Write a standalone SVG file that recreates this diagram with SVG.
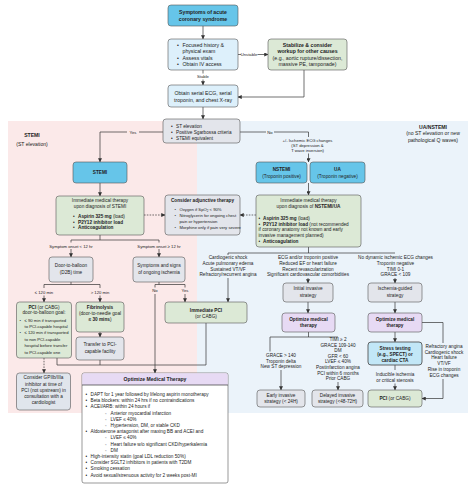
<svg xmlns="http://www.w3.org/2000/svg" width="474" height="489" viewBox="0 0 474 489">
<defs>
<marker id="ah" viewBox="0 0 6 6" refX="5.6" refY="3" markerWidth="4" markerHeight="4" markerUnits="userSpaceOnUse" orient="auto"><path d="M0,0L6,3L0,6z" fill="#333"/></marker>
<style>
.bx{stroke:#555;stroke-width:0.6}
.bd{fill:#66c5e9}
.bl{fill:#ddf0fb}
.gr{fill:#e3e5eb}
.gn{fill:#dce9d6}
.pu{fill:#e7daf4}
.sb{fill:#c2e7f7;stroke-width:0.9}
.wh{fill:#fff}
.ln{fill:none;stroke:#333;stroke-width:0.7}
.ar{marker-end:url(#ah)}
.dl{stroke-dasharray:1.6 1.2}
text{font-family:"Liberation Sans",Arial,sans-serif;font-size:4.7px;fill:#222}
.c{text-anchor:middle}
.b{font-weight:bold}
.L{font-size:5.2px}
.S{font-size:4.2px}
.R{font-size:5.1px}
</style>
</defs>
<rect width="474" height="489" fill="#fff"/>
<rect x="8" y="121" width="189" height="292" fill="#fbe9e9"/>
<rect x="197" y="121" width="271" height="292" fill="#ebf3fa"/>

<g id="region-stemi">
<text class="c b R" x="32" y="137">STEMI</text>
<text class="c R" x="32" y="146">(ST elevation)</text>
</g>
<g id="region-nstemi">
<text class="c b R" x="433" y="128.5">UA/NSTEMI</text>
<text class="c R" x="433" y="135">(no ST elevation or new</text>
<text class="c R" x="433" y="141.5">pathological Q waves)</text>
</g>

<g id="connectors">
<path class="ln ar" d="M203,26V39"/>
<path class="ln" d="M238,54.5H241"/>
<path class="ln ar" d="M257.5,54.5H268"/>
<text class="c S" x="249" y="56">Unstable</text>
<path class="ln" d="M203,70V73.5"/>
<text class="c S" x="203" y="78">Stable</text>
<path class="ln ar" d="M203,79.5V85"/>
<path class="ln ar" d="M304,70V97H238"/>
<path class="ln ar" d="M203,107V119"/>
<path class="ln" d="M163,132H139"/>
<text class="c S" x="133" y="133.5">Yes</text>
<path class="ln ar" d="M127,132H100V162"/>
<path class="ln" d="M240,132H266"/>
<text class="c S" x="270" y="133.5">No</text>
<path class="ln" d="M274,132H308.5V137"/>
<text class="c S" x="307.5" y="141.5">+/- Ischemic ECG changes</text>
<text class="c S" x="307.5" y="146.5">(ST depression &amp;</text>
<text class="c S" x="307.5" y="151.5">T wave inversion)</text>
<path class="ln ar" d="M308.5,153.5V162"/>
<path class="ln ar" d="M308.5,183V195"/>
<path class="ln ar" d="M100,183V196"/>
<path class="ln dl ar" d="M144,215H165"/>
<path class="ln dl ar" d="M256,215H240"/>
<path class="ln" d="M100,235V240M71,240H159M71,240V242.5M159,240V242.5"/>
<text class="c S" x="71" y="247.5">Symptom onset &lt; 12 hr</text>
<text class="c S" x="159" y="247.5">Symptom onset ≥ 12 hr</text>
<path class="ln ar" d="M71,249V257"/>
<path class="ln ar" d="M159,249V257"/>
<path class="ln" d="M71,282V284.5M44,284.5H100M44,284.5V288M100,284.5V288"/>
<text class="c S" x="44" y="293.5">≤ 120 min</text>
<text class="c S" x="100" y="293.5">&gt; 120 min</text>
<path class="ln ar" d="M44,295.5V302"/>
<path class="ln ar" d="M100,295.5V302"/>
<path class="ln ar" d="M100,332V337"/>
<path class="ln" d="M159,282V284.5M155,284.5H185M155,284.5V287.5M185,284.5V287.5"/>
<text class="c S" x="155" y="292">No</text>
<text class="c S" x="185" y="292">Yes</text>
<path class="ln" d="M155,294V365"/>
<path class="ln ar" d="M185,294V302"/>
<path class="ln" d="M308.5,247V253M228,253H395M228,253V255"/>
<path class="ln ar" d="M228,278V302"/>
<path class="ln ar" d="M308,278V283"/>
<path class="ln ar" d="M395,278V283"/>
<path class="ln ar" d="M308,302V313"/>
<path class="ln ar" d="M395,302V313"/>
<path class="ln" d="M422,322.5H443V343"/>
<path class="ln ar" d="M443,379V398.5H422"/>
<path class="ln ar" d="M395,332V342"/>
<path class="ln" d="M395,365V370"/>
<path class="ln ar" d="M395,383.5V390"/>
<path class="ln" d="M308.5,332V337M270,337H338M270,337V351.5"/>
<path class="ln ar" d="M281,370V390"/>
<path class="ln ar" d="M338,382V390"/>
<path class="ln" d="M57,358V365M100,360V365M206,323V365M57,365H206"/>
<path class="ln ar" d="M155,365V373"/>
<path class="ln dl ar" d="M44,358V373"/>
</g>

<g id="n-symptoms">
<rect class="bx bd" x="168" y="5" width="70" height="21" rx="3"/>
<text class="c b L" x="203" y="14.3">Symptoms of acute</text>
<text class="c b L" x="203" y="20.8">coronary syndrome</text>
</g>
<g id="n-focused">
<rect class="bx bl" x="168" y="39" width="70" height="31" rx="3"/>
<text class="L" x="177" y="46.8">•</text><text class="L" x="182.5" y="46.8">Focused history &amp;</text>
<text class="L" x="182.5" y="53.2">physical exam</text>
<text class="L" x="177" y="59.6">•</text><text class="L" x="182.5" y="59.6">Assess vitals</text>
<text class="L" x="177" y="66">•</text><text class="L" x="182.5" y="66">Obtain IV access</text>
</g>
<g id="n-stabilize">
<rect class="bx gn" x="268" y="39" width="79" height="31" rx="3"/>
<text class="c b L" x="307.5" y="46.8">Stabilize &amp; consider</text>
<text class="c b L" x="307.5" y="53.2">workup for other causes</text>
<text class="c L" x="307.5" y="59.6">(e.g., aortic rupture/dissection,</text>
<text class="c L" x="307.5" y="66">massive PE, tamponade)</text>
</g>
<g id="n-obtain">
<rect class="bx bl" x="168" y="85" width="70" height="22" rx="3"/>
<text class="c L" x="203" y="95">Obtain serial ECG, serial</text>
<text class="c L" x="203" y="101.6">troponin, and chest X-ray</text>
</g>
<g id="n-stcheck">
<rect class="bx gr" x="163" y="119" width="77" height="24" rx="3"/>
<text x="171" y="128">•</text><text x="176" y="128">ST elevation</text>
<text x="171" y="134">•</text><text x="176" y="134">Positive Sgarbossa criteria</text>
<text x="171" y="140">•</text><text x="176" y="140">STEMI equivalent</text>
</g>
<g id="n-stemi">
<rect class="bx bd" x="73" y="162" width="54" height="21" rx="3"/>
<text class="c b" x="100" y="174.3">STEMI</text>
</g>
<g id="n-nstemi">
<rect class="bx bd" x="256" y="162" width="51" height="21" rx="3"/>
<text class="c b" x="281.5" y="171">NSTEMI</text>
<text class="c" x="281.5" y="177.5">(Troponin positive)</text>
</g>
<g id="n-ua">
<rect class="bx bd" x="310" y="162" width="55" height="21" rx="3"/>
<text class="c b" x="337.5" y="171">UA</text>
<text class="c" x="337.5" y="177.5">(Troponin negative)</text>
</g>
<g id="n-immstemi">
<rect class="bx gn" x="56" y="196" width="88" height="39" rx="3"/>
<text class="c" x="100" y="202.3">Immediate medical therapy</text>
<text class="c" x="100" y="208.3">upon diagnosis of STEMI</text>
<text x="73" y="218">•</text><text x="78" y="218"><tspan class="b">Aspirin 325 mg</tspan> (load)</text>
<text x="73" y="223.7">•</text><text class="b" x="78" y="223.7">P2Y12 inhibitor load</text>
<text x="73" y="229.4">•</text><text class="b" x="78" y="229.4">Anticoagulation</text>
</g>
<g id="n-adjunct">
<rect class="bx gr" x="165" y="195" width="75" height="40" rx="3"/>
<text class="c b" x="202.5" y="202">Consider adjunctive therapy</text>
<text class="S" x="174.5" y="211">•</text><text class="S" x="179.5" y="211">Oxygen if SpO<tspan font-size="3px" dy="0.8">2</tspan><tspan dy="-0.8"> &lt; 90%</tspan></text>
<text class="S" x="174.5" y="217.3">•</text><text class="S" x="179.5" y="217.3">Nitroglycerin for ongoing chest</text>
<text class="S" x="179.5" y="223">pain or hypertension</text>
<text class="S" x="174.5" y="229.3">•</text><text class="S" x="179.5" y="229.3">Morphine only if pain very severe</text>
</g>
<g id="n-immnstemi">
<rect class="bx gn" x="256" y="195" width="105" height="52" rx="3"/>
<text class="c" x="308.5" y="202.3">Immediate medical therapy</text>
<text class="c" x="308.5" y="208.3">upon diagnosis of <tspan class="b">NSTEMI/UA</tspan></text>
<text x="258.5" y="220">•</text><text x="263" y="220"><tspan class="b">Aspirin 325 mg</tspan> (load)</text>
<text x="258.5" y="225.5">•</text><text x="263" y="225.5"><tspan class="b">P2Y12 inhibitor load</tspan> (not recommended</text>
<text x="258.5" y="231">if coronary anatomy not known and early</text>
<text x="258.5" y="236.5">invasive management planned)</text>
<text x="258.5" y="243">•</text><text class="b" x="263" y="243">Anticoagulation</text>
</g>
<g id="n-d2b">
<rect class="bx gr" x="49" y="257" width="44" height="25" rx="3"/>
<text class="c" x="71" y="267">Door-to-balloon</text>
<text class="c" x="71" y="274">(D2B) time</text>
</g>
<g id="n-ischsigns">
<rect class="bx gr" x="133" y="257" width="52" height="25" rx="3"/>
<text class="c" x="159" y="267">Symptoms and signs</text>
<text class="c" x="159" y="274">of ongoing ischemia</text>
</g>
<g id="n-pci">
<rect class="bx gn" x="16.5" y="302" width="55" height="56" rx="3"/>
<text class="c" x="44" y="308.5"><tspan class="b">PCI</tspan> (or CABG)</text>
<text class="c" x="44" y="314">door-to-balloon goal:</text>
<text class="S" x="19.5" y="321.8">•</text><text class="S" x="24.5" y="321.8">≤ 90 min if transported</text>
<text class="S" x="24.5" y="327.8">to PCI-capable hospital</text>
<text class="S" x="19.5" y="334">•</text><text class="S" x="24.5" y="334">≤ 120 min if transported</text>
<text class="S" x="24.5" y="340.5">to non PCI-capable</text>
<text class="S" x="24.5" y="347">hospital before transfer</text>
<text class="S" x="24.5" y="353.5">to PCI-capable one</text>
</g>
<g id="n-fibrinolysis">
<rect class="bx gn" x="76" y="302" width="48" height="30" rx="3"/>
<text class="c b" x="100" y="308.5">Fibrinolysis</text>
<text class="c" x="100" y="314.5">(door-to-needle goal</text>
<text class="c" x="100" y="320.8"><tspan class="b">≤ 30 mins</tspan>)</text>
</g>
<g id="n-transfer">
<rect class="bx gr" x="76" y="337" width="48" height="23" rx="3"/>
<text class="c" x="100" y="346">Transfer to PCI-</text>
<text class="c" x="100" y="352.8">capable facility</text>
</g>
<g id="n-immpci">
<rect class="bx gn" x="165" y="302" width="82" height="21" rx="3"/>
<text class="c b" x="206" y="311.5">Immediate PCI</text>
<text class="c" x="206" y="318.3">(or CABG)</text>
</g>
<g id="n-crit1">
<text class="c" x="228" y="259">Cardiogenic shock</text>
<text class="c" x="228" y="264.8">Acute pulmonary edema</text>
<text class="c" x="228" y="270.6">Sustained VT/VF</text>
<text class="c" x="228" y="276.4">Refractory/recurrent angina</text>
</g>
<g id="n-crit2">
<text class="c" x="308" y="259">ECG and/or troponin positive</text>
<text class="c" x="308" y="264.8">Reduced EF or heart failure</text>
<text class="c" x="308" y="270.6">Recent revascularization</text>
<text class="c" x="308" y="276.4">Significant cardiovascular comorbidities</text>
</g>
<g id="n-crit3">
<text class="c" x="395.5" y="259">No dynamic ischemic ECG changes</text>
<text class="c" x="395.5" y="264.8">Troponin negative</text>
<text class="c" x="395.5" y="270.6">TIMI 0-1</text>
<text class="c" x="395.5" y="276.4">GRACE &lt; 109</text>
</g>
<g id="n-initinv">
<rect class="bx gr" x="283" y="283" width="50" height="19" rx="3"/>
<text class="c" x="308" y="290.3">Initial invasive</text>
<text class="c" x="308" y="297">strategy</text>
</g>
<g id="n-ischguided">
<rect class="bx gr" x="368" y="283" width="54" height="19" rx="3"/>
<text class="c" x="395" y="290.3">Ischemia-guided</text>
<text class="c" x="395" y="297">strategy</text>
</g>
<g id="n-optL">
<rect class="bx pu" x="282" y="313" width="53" height="19" rx="3"/>
<text class="c b" x="308.5" y="321">Optimize medical</text>
<text class="c b" x="308.5" y="327.3">therapy</text>
</g>
<g id="n-optR">
<rect class="bx pu" x="368" y="313" width="54" height="19" rx="3"/>
<text class="c b" x="395" y="321">Optimize medical</text>
<text class="c b" x="395" y="327.3">therapy</text>
</g>
<g id="n-crit4">
<text class="c" x="444" y="347.8">Refractory angina</text>
<text class="c" x="444" y="353.6">Cardiogenic shock</text>
<text class="c" x="444" y="359.4">Heart failure</text>
<text class="c" x="444" y="365.2">VT/VF</text>
<text class="c" x="444" y="371">Rise in troponin</text>
<text class="c" x="444" y="376.8">ECG changes</text>
</g>
<g id="n-stress">
<rect class="bx sb" x="368" y="342" width="54" height="23" rx="3"/>
<text class="c b" x="395" y="349.8">Stress testing</text>
<text class="c b" x="395" y="356">(e.g., SPECT) or</text>
<text class="c b" x="395" y="362.2">cardiac CTA</text>
</g>
<g id="n-crit5">
<text class="c" x="395" y="375.7">Inducible ischemia</text>
<text class="c" x="395" y="381.5">or critical stenosis</text>
</g>
<g id="n-pciR">
<rect class="bx gn" x="368" y="390" width="54" height="17" rx="3"/>
<text class="c" x="395" y="400.2"><tspan class="b">PCI</tspan> (or CABG)</text>
</g>
<g id="n-crit6">
<text class="c" x="281" y="357">GRACE &gt; 140</text>
<text class="c" x="281" y="362.6">Troponin delta</text>
<text class="c" x="281" y="368.2">New ST depression</text>
</g>
<g id="n-crit7">
<text class="c" x="338" y="341">TIMI ≥ 2</text>
<text class="c" x="338" y="346.6">GRACE 109-140</text>
<text class="c" x="338" y="352.2">DM</text>
<text class="c" x="338" y="357.8">GFR &lt; 60</text>
<text class="c" x="338" y="363.4">LVEF ≤ 40%</text>
<text class="c" x="338" y="369">Postinfarction angina</text>
<text class="c" x="338" y="374.6">PCI within 6 months</text>
<text class="c" x="338" y="380.2">Prior CABG</text>
</g>
<g id="n-early">
<rect class="bx gr" x="257" y="390" width="48" height="17" rx="3"/>
<text class="c" x="281" y="396.7">Early invasive</text>
<text class="c" x="281" y="403.3">strategy (&lt; 24H)</text>
</g>
<g id="n-delayed">
<rect class="bx gr" x="312" y="390" width="51" height="17" rx="3"/>
<text class="c" x="337.5" y="396.7">Delayed invasive</text>
<text class="c" x="337.5" y="403.3">strategy (&lt;48-72H)</text>
</g>
<g id="n-gp">
<rect class="bx" fill="#e0e5ec" x="16.5" y="373" width="54" height="37" rx="3"/>
<text class="c" x="43.5" y="379.3">Consider GPIIb/IIIa</text>
<text class="c" x="43.5" y="385.5">inhibitor at time of</text>
<text class="c" x="43.5" y="391.7">PCI (not upstream) in</text>
<text class="c" x="43.5" y="397.9">consultation with a</text>
<text class="c" x="43.5" y="404.1">cardiologist</text>
</g>
<g id="n-omt">
<rect class="bx wh" x="82" y="373" width="146" height="110" rx="2"/>
<path d="M82.3,385V375a1.7,1.7 0 0 1 1.7,-1.7H226a1.7,1.7 0 0 1 1.7,1.7V385z" class="pu"/>
<path d="M82,385H228" class="ln" stroke="#555"/>
<text class="c b R" x="155" y="381">Optimize Medical Therapy</text>
<text x="85.5" y="396">•</text><text x="90.5" y="396">DAPT for 1 year followed by lifelong aspirin monotherapy</text>
<text x="85.5" y="402.2">•</text><text x="90.5" y="402.2">Beta blockers: within 24 hrs if no contraindications</text>
<text x="85.5" y="408.4">•</text><text x="90.5" y="408.4">ACEI/ARB: within 24 hours if</text>
<text x="105" y="414.6">◦</text><text x="110.5" y="414.6">Anterior myocardial infarction</text>
<text x="105" y="420.8">◦</text><text x="110.5" y="420.8">LVEF ≤ 40%</text>
<text x="105" y="427">◦</text><text x="110.5" y="427">Hypertension, DM, or stable CKD</text>
<text x="85.5" y="433.2">•</text><text x="90.5" y="433.2">Aldosterone antagonist after maxing BB and ACEI and</text>
<text x="105" y="439.4">◦</text><text x="110.5" y="439.4">LVEF ≤ 40%</text>
<text x="105" y="445.6">◦</text><text x="110.5" y="445.6">Heart failure w/o significant CKD/hyperkalemia</text>
<text x="105" y="451.8">◦</text><text x="110.5" y="451.8">DM</text>
<text x="85.5" y="458">•</text><text x="90.5" y="458">High-intensity statin (goal LDL reduction 50%)</text>
<text x="85.5" y="464.2">•</text><text x="90.5" y="464.2">Consider SGLT2 inhibitors in patients with T2DM</text>
<text x="85.5" y="470.4">•</text><text x="90.5" y="470.4">Smoking cessation</text>
<text x="85.5" y="476.6">•</text><text x="90.5" y="476.6">Avoid sexual/strenuous activity for 2 weeks post-MI</text>
</g>
</svg>
